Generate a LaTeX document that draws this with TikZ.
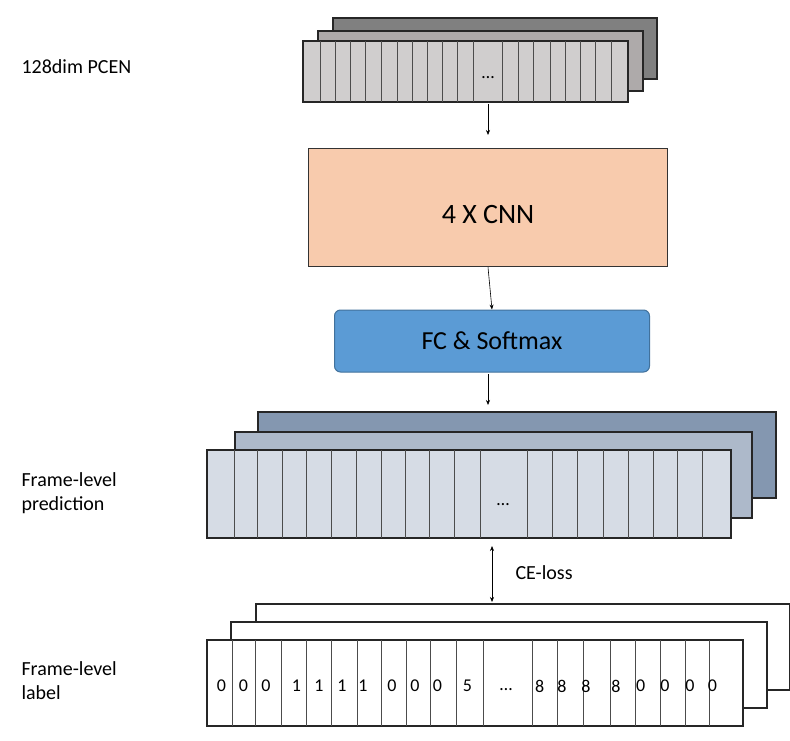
\documentclass[tikz,border=0pt]{standalone}
\usepackage{fontspec}
\setmainfont{Carlito}
\usetikzlibrary{shapes.geometric,arrows.meta}
\definecolor{g1}{HTML}{D0CECE}\definecolor{g2}{HTML}{AEAAAA}\definecolor{g3}{HTML}{808080}
\definecolor{b1}{HTML}{D6DCE5}\definecolor{b2}{HTML}{ADB9CA}\definecolor{b3}{HTML}{8497B0}
\definecolor{cnn}{HTML}{F8CBAD}\definecolor{fc}{HTML}{5B9BD5}\definecolor{fcb}{HTML}{41719C}
\begin{document}
\begin{tikzpicture}[x=1pt,y=-1pt,
  lab/.style={font=\fontsize{20}{24}\selectfont,align=left,anchor=west},
  frame/.style={draw=black!85,line width=1.2pt},
  cell/.style={draw=black!70,line width=0.6pt},
  arr/.style={-{Stealth[length=5pt,width=4pt]},line width=0.6pt}]
\useasboundingbox (0,0) rectangle (790,741);
% top stack
\draw[frame,fill=g3] (333,18) rectangle (657,79);
\draw[frame,fill=g2] (318,31) rectangle (643,91);
\draw[frame,fill=g1] (303,41) rectangle (628,102);
\foreach \x in {320,335,350,365,381,397,412,427,442,457,473,502,518,533,550,565,580,595,611}
  \draw[cell] (\x,41) -- (\x,102);
\node[font=\fontsize{18}{20}\selectfont] (pd) at (488,78) {\ldots};
\coordinate (ptop) at (488,104);
\node[lab] (pcen) at (18,67) {128dim PCEN};
% cylinder
\node[cylinder,shape border rotate=90,draw=black!80,line width=1pt,fill=cnn,
  minimum width=359pt,minimum height=118pt,aspect=9,inner sep=0pt] (cnn) at (488,208) {};
\node[font=\fontsize{28}{32}\selectfont] (cnnt) at (488,215) {4 X CNN};
% FC
\node[draw=fcb,line width=1pt,fill=fc,rounded corners=6pt,minimum width=315pt,minimum height=62pt,
  font=\fontsize{26}{30}\selectfont] (fc) at (492,341) {FC \& Softmax};
% prediction stack
\draw[frame,fill=b3] (258,412) rectangle (776,498);
\draw[frame,fill=b2] (235,432) rectangle (752,518);
\draw[frame,fill=b1] (207,450) rectangle (731,538);
\foreach \x in {234,257.5,282,306,331,356,381,405,429,454,480,527.5,552.5,577,603,628.5,653,677,702}
  \draw[cell] (\x,450) -- (\x,538);
\node[font=\fontsize{18}{20}\selectfont] (qd) at (503,505) {\ldots};
\coordinate (predtop) at (488,405);
\coordinate (predbot) at (492,546);
\node[lab] (plab) at (18,493) {Frame-level\\prediction};
% label stack
\draw[frame,fill=white] (256,604) rectangle (790,690);
\draw[frame,fill=white] (231,622) rectangle (767,708);
\draw[frame,fill=white] (207,640) rectangle (743,726);
\foreach \x in {232,255.6,281,306,331.6,357,381.5,406,430.7,456,483,532,557,583,610,635,660,685,709}
  \draw[cell] (\x,640) -- (\x,726);
\foreach \x/\d [count=\i] in {221.5/0,243.5/0,266/0,296.5/1,319/1,342/1,363/1,392/0,415/0,437.5/0,467.4/5,539.6/8,562/8,586/8,616/8,640.6/0,665/0,690/0,712.5/0}
  \node[font=\fontsize{18}{20}\selectfont,inner sep=0pt] (d\i) at (\x,686) {\d};
\node[font=\fontsize{18}{20}\selectfont,inner sep=0pt] (ld) at (506,690) {\ldots};
\coordinate (labtop) at (492,602);
\node[lab] (llab) at (18,681) {Frame-level\\label};
\node[font=\fontsize{20}{24}\selectfont,anchor=west] (ce) at (512,573) {CE-loss};
% arrows
\draw[arr] (ptop) -- (488,135);
\draw[arr] (cnn.south) -- (fc.north);
\draw[arr] (488,374) -- (predtop);
\draw[{Stealth[length=5pt,width=4pt]}-{Stealth[length=5pt,width=4pt]},line width=0.6pt] (predbot) -- (labtop);
\end{tikzpicture}
\end{document}
